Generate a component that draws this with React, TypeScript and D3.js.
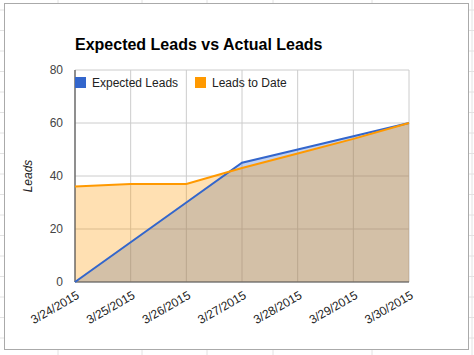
import React from "react";
import * as d3 from "d3";

const categories = ["3/24/2015", "3/25/2015", "3/26/2015", "3/27/2015", "3/28/2015", "3/29/2015", "3/30/2015"];
const expectedLeads = [0, 15, 30, 45, 50, 55, 60];
const leadsToDate = [36, 37, 37, 43, 48.5, 54, 60];
const yTicks = [0, 20, 40, 60, 80];
const seriesNames = ["Expected Leads", "Leads to Date"];
const seriesColors = ["#3366cc", "#ff9900"];

const W = 474;
const H = 355;
const plot = { left: 75, right: 409, top: 70, bottom: 282 };

export default function App() {
  const x = d3.scalePoint<string>().domain(categories).range([plot.left, plot.right]);
  const y = d3.scaleLinear().domain([0, 80]).range([plot.bottom, plot.top]);

  const series = [expectedLeads, leadsToDate];
  const area = d3
    .area<number>()
    .x((_, i) => x(categories[i]) as number)
    .y0(y(0))
    .y1((d) => y(d));
  const line = d3
    .line<number>()
    .x((_, i) => x(categories[i]) as number)
    .y((d) => y(d));

  // spreadsheet background grid (decorative)
  const rows = d3.range(10, H, 20.5);
  const cols = [58, 142, 207, 273, 372, 472];

  const font = "Arial, 'Liberation Sans', sans-serif";

  return (
    <svg
      width={W}
      height={H}
      style={{ position: "absolute", left: 0, top: 0, background: "#fff" }}
      fontFamily={font}
    >
      {rows.map((r, i) => (
        <line key={"r" + i} x1={0} x2={W} y1={r} y2={r} stroke="#e2e2e2" strokeWidth={1} />
      ))}
      {cols.map((c, i) => (
        <line key={"c" + i} x1={c} x2={c} y1={0} y2={H} stroke="#e2e2e2" strokeWidth={1} />
      ))}
      <rect x={4.5} y={3.5} width={464} height={346} fill="#fff" stroke="#aaa" strokeWidth={1} />

      <text x={75} y={50} fontSize={16} fontWeight="bold" fill="#000">
        Expected Leads vs Actual Leads
      </text>

      {/* gridlines */}
      {yTicks.map((t) => (
        <line key={"gy" + t} x1={plot.left} x2={plot.right} y1={y(t)} y2={y(t)} stroke="#cccccc" strokeWidth={1} />
      ))}
      {categories.map((c) => (
        <line key={"gx" + c} x1={x(c)} x2={x(c)} y1={plot.top} y2={plot.bottom} stroke="#cccccc" strokeWidth={1} />
      ))}

      {/* areas */}
      {series.map((s, i) => (
        <path key={"a" + i} d={area(s) || ""} fill={seriesColors[i]} fillOpacity={0.3} />
      ))}

      {/* axes */}
      <line x1={plot.left} x2={plot.left} y1={plot.top} y2={plot.bottom} stroke="#555" strokeWidth={1.2} />
      <line x1={plot.left} x2={plot.right} y1={plot.bottom} y2={plot.bottom} stroke="#555" strokeWidth={1.2} />

      {/* lines */}
      {series.map((s, i) => (
        <path key={"l" + i} d={line(s) || ""} fill="none" stroke={seriesColors[i]} strokeWidth={2} />
      ))}

      {/* y ticks */}
      {yTicks.map((t) => (
        <text key={"ty" + t} x={63} y={y(t)} dy="0.35em" textAnchor="end" fontSize={12} fill="#444">
          {t}
        </text>
      ))}
      <text
        transform={`translate(32, ${(plot.top + plot.bottom) / 2}) rotate(-90)`}
        textAnchor="middle"
        fontSize={12}
        fontStyle="italic"
        fill="#222"
      >
        Leads
      </text>

      {/* x ticks */}
      {categories.map((c) => (
        <text
          key={"tx" + c}
          transform={`translate(${(x(c) as number) + 3}, ${plot.bottom + 12}) rotate(-30)`}
          textAnchor="end"
          dy="0.35em"
          fontSize={12}
          fill="#222"
        >
          {c}
        </text>
      ))}

      {/* legend */}
      {seriesNames.map((n, i) => {
        const lx = i === 0 ? 75 : 195;
        return (
          <g key={"lg" + i}>
            <rect x={lx} y={77} width={11} height={11} fill={seriesColors[i]} />
            <text x={lx + 17} y={87} fontSize={12} fill="#222">
              {n}
            </text>
          </g>
        );
      })}
    </svg>
  );
}
